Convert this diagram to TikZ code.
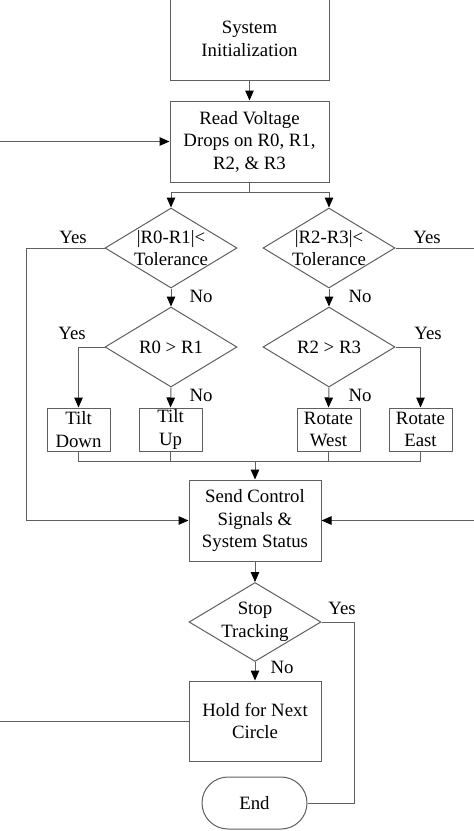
\documentclass[tikz,border=0pt]{standalone}
\usepackage{fontspec}
\setmainfont{Liberation Serif}
\usetikzlibrary{shapes.geometric,arrows.meta}
\definecolor{lc}{RGB}{95,95,95}
\tikzset{
  fnt/.style={font=\fontsize{18.8}{22.5}\selectfont},
  box/.style={draw=lc,line width=1pt,inner sep=0pt,align=center,fnt},
  dia/.style={diamond,draw=lc,line width=1pt,inner sep=0pt,minimum width=132pt,minimum height=80pt},
  txt/.style={inner sep=0pt,align=center,fnt},
  ln/.style={draw=lc,line width=1pt},
  arr/.style={ln,-{Triangle[length=10pt,width=8.5pt,color=black]}},
}
\begin{document}
\begin{tikzpicture}[x=1pt,y=-1pt]
\useasboundingbox (0,0) rectangle (474,831);
% boxes
\node[box,minimum width=159pt,minimum height=82pt] (init) at (249.5,39) {System\\Initialization};
\node[box,minimum width=159pt,minimum height=81pt] (read) at (249.5,141.5) {Read Voltage\\Drops on R0, R1,\\R2, \& R3};
\node[dia] (d1) at (171,248) {};
\node[txt] (t1) at (d1) {|R0-R1|<\\Tolerance};
\node[dia] (d2) at (329,248) {};
\node[txt] (t2) at (d2) {|R2-R3|<\\Tolerance};
\node[dia] (d3) at (171,347) {};
\node[txt] (t3) at (d3) {R0 > R1};
\node[dia] (d4) at (329,347) {};
\node[txt] (t4) at (d4) {R2 > R3};
\node[box,minimum width=63pt,minimum height=43pt] (td) at (78.5,429.5) {Tilt\\Down};
\node[box,minimum width=63pt,minimum height=43pt] (tu) at (170.5,429.5) {Tilt\\Up};
\node[box,minimum width=63pt,minimum height=43pt] (rw) at (328.5,429.5) {Rotate\\West};
\node[box,minimum width=63pt,minimum height=43pt] (re) at (420.5,429.5) {Rotate\\East};
\node[box,minimum width=132pt,minimum height=81pt] (send) at (255,520.5) {Send Control\\Signals \&\\System Status};
\node[dia,minimum height=79pt] (d5) at (255,622) {};
\node[txt] (t5) at (d5) {Stop\\Tracking};
\node[box,minimum width=132pt,minimum height=80pt] (hold) at (255,721) {Hold for Next\\Circle};
\node[box,minimum width=105pt,minimum height=52pt,rounded corners=26pt] (end) at (254.5,803) {End};
% labels
\node[txt] (y1) at (73,237) {Yes};
\node[txt] (y2) at (427,237) {Yes};
\node[txt] (y3) at (72,333) {Yes};
\node[txt] (y4) at (428,333) {Yes};
\node[txt] (y5) at (342,608) {Yes};
\node[txt] (n1) at (201,296) {No};
\node[txt] (n2) at (360,296) {No};
\node[txt] (n3) at (201,395) {No};
\node[txt] (n4) at (360,395) {No};
\node[txt] (n5) at (282,667) {No};
% coordinates
\coordinate (j1) at (249.5,192);
\coordinate (j2) at (255,461);
\coordinate (lin) at (0,141.5);
\coordinate (rin) at (474,520.5);
\coordinate (rout) at (474,248);
\coordinate (lout) at (0,721);
% connectors
\draw[arr] (init) -- (read);
\draw[arr] (lin) -- (read.west);
\draw[ln] (read.south) -- (j1);
\draw[arr] (j1) -| (d1.north);
\draw[arr] (j1) -| (d2.north);
\draw[arr] (d1.west) -- (26,248) |- (send.west);
\draw[ln] (d2.east) -- (rout);
\draw[arr] (rin) -- (send.east);
\draw[arr] (d1) -- (d3);
\draw[arr] (d2) -- (d4);
\draw[arr] (d3.west) -| (td.north);
\draw[arr] (d3.south) -- (tu.north);
\draw[arr] (d4.east) -| (re.north);
\draw[arr] (d4.south) -- (rw.north);
\draw[ln] (td.south) -- (td.south|-j2) -| (re.south);
\draw[ln] (tu.south) -- (tu.south|-j2);
\draw[ln] (rw.south) -- (rw.south|-j2);
\draw[arr] (j2) -- (send.north);
\draw[arr] (send) -- (d5);
\draw[arr] (d5) -- (hold);
\draw[ln] (d5.east) -- (354,622) |- (end.east);
\draw[ln] (hold.west) -- (lout);
\end{tikzpicture}
\end{document}
